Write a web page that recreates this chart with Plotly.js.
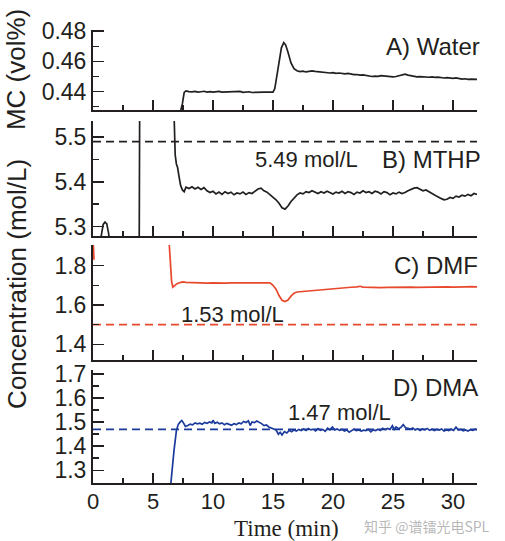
<!DOCTYPE html>
<html>
<head>
<meta charset="utf-8">
<script src="https://cdn.plot.ly/plotly-3.0.1.min.js"></script>
<style>
html,body{margin:0;padding:0;background:#fff;}
#chart{width:505px;height:541px;}
</style>
</head>
<body>
<div id="chart"></div>
<script>
// ---------- DATA ----------
// A) Water: moisture content (vol%)
const waterTime = [7.30,7.45,7.60,7.75,8.00,8.25,8.50,8.75,9.00,9.25,9.50,9.75,10.00,10.25,10.50,10.75,11.00,11.25,11.50,11.75,12.00,12.25,12.50,12.75,13.00,13.25,13.50,13.75,14.00,14.25,14.50,14.75,15.00,15.15,15.30,15.50,15.70,15.90,16.05,16.25,16.50,16.75,17.00,17.25,17.50,17.75,18.00,18.25,18.50,18.75,19.00,19.25,19.50,19.75,20.00,20.25,20.50,20.75,21.00,21.25,21.50,21.75,22.00,22.25,22.50,22.75,23.00,23.25,23.50,23.75,24.00,24.25,24.50,24.75,25.00,25.25,25.50,25.75,26.00,26.25,26.50,26.75,27.00,27.25,27.50,27.75,28.00,28.25,28.50,28.75,29.00,29.25,29.50,29.75,30.00,30.25,30.50,30.75,31.00,31.25,31.50,31.75,32.00];
const waterMC = [0.4270,0.4320,0.4395,0.4405,0.4400,0.4398,0.4401,0.4396,0.4399,0.4402,0.4397,0.4400,0.4396,0.4399,0.4401,0.4397,0.4398,0.4394,0.4399,0.4396,0.4398,0.4401,0.4395,0.4397,0.4399,0.4394,0.4396,0.4398,0.4395,0.4397,0.4396,0.4394,0.4396,0.4420,0.4490,0.4600,0.4690,0.4725,0.4710,0.4660,0.4590,0.4552,0.4538,0.4532,0.4535,0.4530,0.4533,0.4537,0.4534,0.4531,0.4533,0.4529,0.4526,0.4523,0.4525,0.4521,0.4523,0.4520,0.4517,0.4520,0.4516,0.4512,0.4513,0.4509,0.4511,0.4507,0.4505,0.4500,0.4503,0.4501,0.4506,0.4504,0.4502,0.4498,0.4497,0.4500,0.4505,0.4510,0.4515,0.4509,0.4505,0.4500,0.4497,0.4499,0.4496,0.4493,0.4495,0.4497,0.4494,0.4496,0.4493,0.4490,0.4492,0.4488,0.4487,0.4491,0.4486,0.4483,0.4485,0.4481,0.4483,0.4480,0.4481];

// B) MTHP concentration (mol/L)
const mthpTime = [0.50,0.70,0.85,1.00,1.15,1.30,1.45,3.85,3.90,6.65,6.75,6.85,6.95,7.05,7.15,7.30,7.45,7.60,7.75,8.00,8.25,8.50,8.75,9.00,9.25,9.50,9.75,10.00,10.25,10.50,10.75,11.00,11.25,11.50,11.75,12.00,12.25,12.50,12.75,13.00,13.25,13.50,13.75,14.00,14.25,14.50,14.75,15.00,15.25,15.50,15.75,16.00,16.25,16.50,16.75,17.00,17.25,17.50,17.75,18.00,18.25,18.50,18.75,19.00,19.25,19.50,19.75,20.00,20.25,20.50,20.75,21.00,21.25,21.50,21.75,22.00,22.25,22.50,22.75,23.00,23.25,23.50,23.75,24.00,24.25,24.50,24.75,25.00,25.25,25.50,25.75,26.00,26.25,26.50,26.75,27.00,27.25,27.50,27.75,28.00,28.25,28.50,28.75,29.00,29.25,29.50,29.75,30.00,30.25,30.50,30.75,31.00,31.25,31.50,31.75,32.00];
const mthpConc = [5.250,5.285,5.305,5.310,5.306,5.285,5.250,5.250,5.650,5.650,5.520,5.460,5.440,5.432,5.415,5.392,5.382,5.378,5.388,5.385,5.389,5.384,5.388,5.383,5.387,5.380,5.376,5.379,5.373,5.377,5.372,5.378,5.374,5.377,5.371,5.375,5.373,5.377,5.372,5.376,5.374,5.379,5.384,5.386,5.380,5.377,5.372,5.366,5.360,5.352,5.342,5.339,5.346,5.356,5.364,5.371,5.375,5.373,5.378,5.376,5.380,5.377,5.374,5.378,5.375,5.379,5.376,5.373,5.377,5.375,5.379,5.374,5.378,5.376,5.372,5.377,5.375,5.380,5.376,5.378,5.374,5.379,5.377,5.373,5.378,5.376,5.371,5.375,5.373,5.377,5.374,5.376,5.380,5.383,5.386,5.387,5.383,5.380,5.382,5.377,5.374,5.370,5.366,5.363,5.360,5.361,5.365,5.363,5.368,5.366,5.370,5.368,5.372,5.369,5.374,5.372];

// C) DMF concentration (mol/L)
const dmfTime = [0.00,0.08,0.10,6.30,6.36,6.45,6.55,6.65,6.80,7.00,7.25,7.50,7.75,8.00,8.50,9.00,9.50,10.00,10.50,11.00,11.50,12.00,12.50,13.00,13.50,14.00,14.50,14.75,15.00,15.25,15.50,15.75,16.00,16.25,16.50,16.75,17.00,17.50,18.00,18.50,19.00,19.50,20.00,20.50,21.00,21.50,22.00,22.25,22.50,23.00,23.50,24.00,24.50,25.00,25.50,26.00,26.50,27.00,27.50,28.00,28.50,29.00,29.50,30.00,30.50,31.00,31.50,32.00];
const dmfConc = [1.950,1.830,null,1.960,1.900,1.800,1.720,1.690,1.697,1.708,1.714,1.717,1.715,1.714,1.713,1.712,1.711,1.712,1.710,1.711,1.712,1.711,1.712,1.713,1.712,1.713,1.713,1.712,1.700,1.680,1.648,1.624,1.617,1.625,1.645,1.660,1.666,1.669,1.672,1.674,1.676,1.679,1.682,1.685,1.688,1.690,1.692,1.695,1.691,1.689,1.690,1.688,1.689,1.690,1.689,1.690,1.691,1.689,1.690,1.692,1.690,1.691,1.692,1.691,1.693,1.692,1.693,1.692];

// D) DMA concentration (mol/L)
const dmaTime = [6.40,6.55,6.75,6.95,7.10,7.25,7.40,7.55,7.70,7.90,8.10,8.30,8.50,8.70,8.90,9.10,9.30,9.50,9.70,9.90,10.00,10.15,10.35,10.55,10.75,10.95,11.15,11.35,11.55,11.75,11.95,12.15,12.35,12.55,12.75,12.95,13.10,13.25,13.45,13.65,13.85,14.05,14.25,14.45,14.65,14.85,15.05,15.25,15.45,15.60,15.75,15.95,16.15,16.35,16.55,16.75,16.95,17.15,17.35,17.55,17.75,17.95,18.15,18.35,18.55,18.75,18.95,19.15,19.35,19.55,19.75,19.95,20.15,20.35,20.55,20.75,20.95,21.15,21.35,21.55,21.75,21.95,22.15,22.35,22.55,22.75,22.95,23.15,23.35,23.55,23.75,23.95,24.15,24.35,24.55,24.75,24.95,25.10,25.25,25.45,25.65,25.85,26.05,26.25,26.45,26.65,26.85,27.05,27.25,27.45,27.65,27.85,28.05,28.25,28.45,28.65,28.85,29.05,29.25,29.45,29.65,29.85,30.05,30.25,30.45,30.65,30.85,31.05,31.25,31.45,31.65,31.85,32.00];
const dmaConc = [1.200,1.290,1.382,1.465,1.490,1.500,1.507,1.496,1.482,1.486,1.492,1.489,1.497,1.493,1.496,1.491,1.499,1.495,1.501,1.497,1.508,1.495,1.500,1.493,1.497,1.489,1.495,1.491,1.487,1.494,1.490,1.497,1.493,1.503,1.499,1.506,1.486,1.501,1.498,1.505,1.500,1.494,1.486,1.489,1.480,1.476,1.473,1.468,1.450,1.458,1.447,1.461,1.455,1.466,1.460,1.468,1.463,1.470,1.465,1.472,1.466,1.474,1.468,1.471,1.464,1.473,1.466,1.470,1.462,1.475,1.468,1.480,1.468,1.472,1.466,1.470,1.463,1.468,1.458,1.466,1.471,1.465,1.468,1.463,1.467,1.465,1.470,1.460,1.468,1.465,1.471,1.466,1.475,1.469,1.474,1.470,1.485,1.470,1.480,1.473,1.478,1.490,1.477,1.474,1.471,1.476,1.468,1.473,1.466,1.472,1.468,1.474,1.466,1.471,1.465,1.470,1.467,1.472,1.463,1.468,1.465,1.471,1.466,1.479,1.467,1.470,1.464,1.468,1.463,1.469,1.466,1.471,1.468];

// Reference (dashed) levels and their labels
const refTime = [0, 32];
const mthpRef = 5.49;
const dmfRef = 1.50;
const dmaRef = 1.47;
const refLabels = ["5.49 mol/L", "1.53 mol/L", "1.47 mol/L"];
const panelLabels = ["A) Water", "B) MTHP", "C) DMF", "D) DMA"];
const xTitle = "Time (min)";
const yTitleTop = "MC (vol%)";
const yTitleBottom = "Concentration (mol/L)";
const watermark = "知乎 @谱镭光电SPL";

// ---------- STYLE ----------
const black = "#231f20";
const red = "#e8492d";
const blue = "#1b3a9b";
const sans = "Liberation Sans, Arial, sans-serif";
const serif = "Liberation Serif, Times New Roman, serif";

const traces = [
  {x: waterTime, y: waterMC, xaxis: "x", yaxis: "y", mode: "lines", line: {color: black, width: 1.7}},
  {x: mthpTime, y: mthpConc, xaxis: "x2", yaxis: "y2", mode: "lines", line: {color: black, width: 1.7}},
  {x: refTime, y: [mthpRef, mthpRef], xaxis: "x2", yaxis: "y2", mode: "lines", line: {color: black, width: 1.6, dash: "8px,5px"}},
  {x: dmfTime, y: dmfConc, xaxis: "x3", yaxis: "y3", mode: "lines", connectgaps: false, line: {color: red, width: 1.7}},
  {x: refTime, y: [dmfRef, dmfRef], xaxis: "x3", yaxis: "y3", mode: "lines", line: {color: red, width: 1.6, dash: "8px,5px"}},
  {x: dmaTime, y: dmaConc, xaxis: "x4", yaxis: "y4", mode: "lines", line: {color: blue, width: 1.7}},
  {x: refTime, y: [dmaRef, dmaRef], xaxis: "x4", yaxis: "y4", mode: "lines", line: {color: blue, width: 1.6, dash: "8px,5px"}}
];

function xax(anchor, labels) {
  return {
    anchor: anchor, domain: [0, 1], range: [0, 32], matches: anchor === "y4" ? undefined : "x4",
    showline: true, linecolor: black, linewidth: 2,
    ticks: "inside", ticklen: 10, tickwidth: 1.5, tickcolor: black,
    tick0: 0, dtick: 5,
    minor: {ticks: "inside", ticklen: 5, tickwidth: 1.5, tickcolor: black, dtick: 2.5, showgrid: false},
    showticklabels: labels, tickfont: {family: sans, size: 22, color: black},
    ticklabelstandoff: -2,
    showgrid: false, zeroline: false, fixedrange: true
  };
}
function yax(anchor, domain, range, dtick, minorDtick) {
  return {
    anchor: anchor, domain: domain, range: range,
    showline: true, linecolor: black, linewidth: 2,
    ticks: "inside", ticklen: 11, tickwidth: 1.5, tickcolor: black,
    dtick: dtick, tick0: 0,
    minor: {ticks: "inside", ticklen: 6, tickwidth: 1.5, tickcolor: black, dtick: minorDtick, tick0: 0, showgrid: false},
    tickfont: {family: sans, size: 23, color: black},
    showgrid: false, zeroline: false, fixedrange: true
  };
}

const annFont = {family: sans, size: 22, color: black};
const layout = {
  width: 505, height: 541,
  margin: {l: 93, r: 28, t: 30, b: 58},
  paper_bgcolor: "#fff", plot_bgcolor: "#fff",
  showlegend: false,
  xaxis: xax("y", false),
  xaxis2: xax("y2", false),
  xaxis3: xax("y3", false),
  xaxis4: xax("y4", true),
  yaxis: yax("x", [0.8234, 1], [0.4278, 0.4808], 0.02, 0.01),
  yaxis2: yax("x2", [0.5453, 0.7991], [5.279, 5.536], 0.1, 0.05),
  yaxis3: yax("x3", [0.2715, 0.5254], [1.32, 1.905], 0.2, 0.1),
  yaxis4: yax("x4", [0, 0.2494], [1.247, 1.717], 0.1, 0.05),
  annotations: [
    {text: panelLabels[0], xref: "paper", yref: "y", x: 1.013, y: 0.4698, xanchor: "right", yanchor: "middle", showarrow: false, font: {family: sans, size: 24, color: black}},
    {text: panelLabels[1], xref: "paper", yref: "y2", x: 1.015, y: 5.449, xanchor: "right", yanchor: "middle", showarrow: false, font: {family: sans, size: 24, color: black}},
    {text: panelLabels[2], xref: "paper", yref: "y3", x: 1.008, y: 1.80, xanchor: "right", yanchor: "middle", showarrow: false, font: {family: sans, size: 24, color: black}},
    {text: panelLabels[3], xref: "paper", yref: "y4", x: 1.008, y: 1.646, xanchor: "right", yanchor: "middle", showarrow: false, font: {family: sans, size: 24, color: black}},
    {text: refLabels[0], xref: "x2", yref: "y2", x: 17.75, y: 5.449, xanchor: "center", yanchor: "middle", showarrow: false, font: annFont},
    {text: refLabels[1], xref: "x3", yref: "y3", x: 11.6, y: 1.549, xanchor: "center", yanchor: "middle", showarrow: false, font: annFont},
    {text: refLabels[2], xref: "x4", yref: "y4", x: 20.5, y: 1.542, xanchor: "center", yanchor: "middle", showarrow: false, font: annFont},
    {text: yTitleTop, xref: "paper", yref: "paper", x: -0.20, y: 0.912, textangle: -90, xanchor: "center", yanchor: "middle", showarrow: false, font: {family: sans, size: 26, color: black}},
    {text: yTitleBottom, xref: "paper", yref: "paper", x: -0.20, y: 0.44, textangle: -90, xanchor: "center", yanchor: "middle", showarrow: false, font: {family: sans, size: 26, color: black}},
    {text: xTitle, xref: "paper", yref: "paper", x: 0.505, y: -0.1, xanchor: "center", yanchor: "middle", showarrow: false, font: {family: serif, size: 23, color: black}},
    {text: watermark, xref: "paper", yref: "paper", x: 1.04, y: -0.095, xanchor: "right", yanchor: "middle", showarrow: false, font: {family: "Noto Sans CJK SC, sans-serif", size: 14, color: "rgba(170,170,170,0.85)"}}
  ]
};

Plotly.newPlot("chart", traces, layout, {staticPlot: true, displayModeBar: false});
</script>
</body>
</html>
